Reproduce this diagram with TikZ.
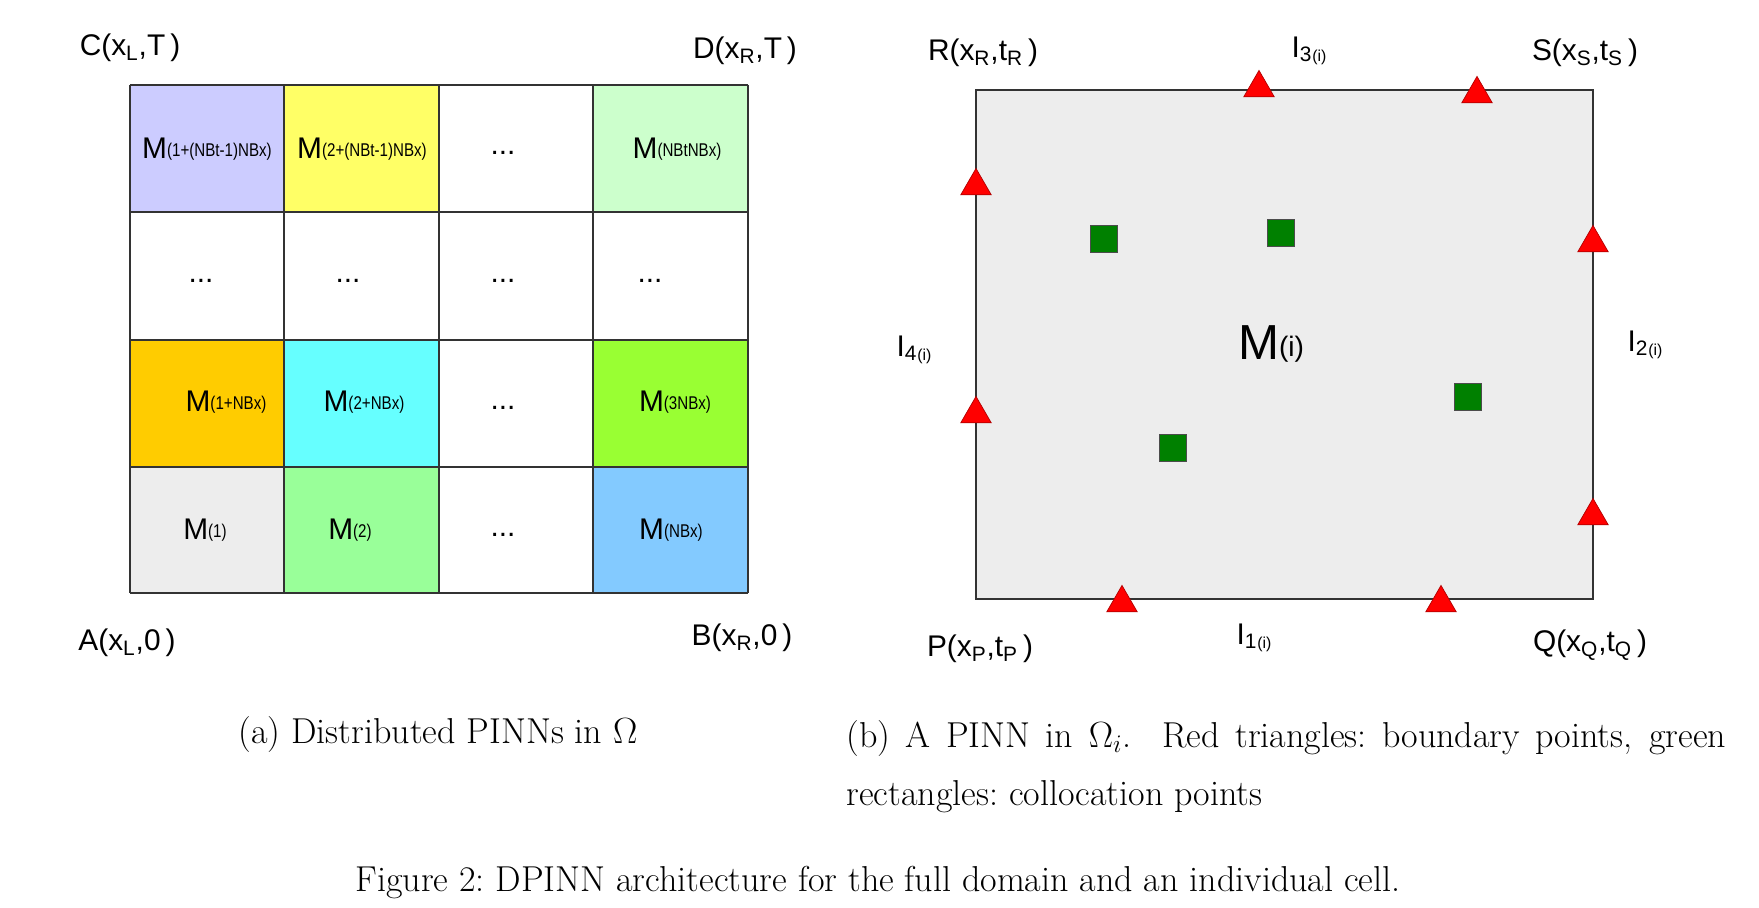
\documentclass[tikz,border=0pt]{standalone}
\usepackage{fontspec}
\newfontfamily\arial{Liberation Sans}
\newfontfamily\arialn[FakeStretch=0.82]{Liberation Sans}
\usetikzlibrary{shapes.geometric}
\newcommand{\Msub}[1]{M\raisebox{0.05em}{\arialn\fontsize{10.5}{12}\selectfont(#1)}}
\definecolor{cgold}{HTML}{FFCC00}
\definecolor{ccyan}{HTML}{66FFFF}
\definecolor{cblue}{HTML}{83CAFF}
\definecolor{clime}{HTML}{99FF33}
\definecolor{clav}{HTML}{CCCCFF}
\definecolor{cyel}{HTML}{FFFF66}
\definecolor{cpale}{HTML}{CCFFCC}
\definecolor{cmid}{HTML}{99FF99}
\begin{document}
\begin{tikzpicture}[x=0.02cm,y=-0.02cm,
 lab/.style={font=\arial\fontsize{17}{20}\selectfont,inner sep=0pt},
 cell/.style={draw=black!80,line width=0.8pt},
 tri/.style={regular polygon,regular polygon sides=3,fill=red,draw=red!70!black,minimum size=20pt,inner sep=0pt},
 sq/.style={rectangle,fill=green!50!black,draw=black!70,minimum size=15pt,inner sep=0pt},
 captxt/.style={font=\fontsize{20.5}{33}\selectfont,inner sep=0pt}]
\useasboundingbox (0,0) rectangle (1759,908);
\fill[clav] (130,85) rectangle (284,212);
\fill[cyel] (284,85) rectangle (439,212);
\fill[cpale] (593,85) rectangle (748,212);
\fill[cgold] (130,340) rectangle (284,467);
\fill[ccyan] (284,340) rectangle (439,467);
\fill[clime] (593,340) rectangle (748,467);
\fill[black!7] (130,467) rectangle (284,593);
\fill[cmid] (284,467) rectangle (439,593);
\fill[cblue] (593,467) rectangle (748,593);
\foreach \x in {130,284,439,593,748} \draw[cell] (\x,85) -- (\x,593);
\foreach \y in {85,212,340,467,593} \draw[cell] (130,\y) -- (748,\y);
\node[lab] (m1) at (207,149) {\Msub{1+(NBt-1)NBx}};
\node[lab] (m2) at (362,149) {\Msub{2+(NBt-1)NBx}};
\node[lab] (m3) at (503,153) {...};
\node[lab] (m4) at (677,149) {\Msub{NBtNBx}};
\foreach \x/\n in {201/a,348/b,503/c,650/d} \node[lab] (d\n) at (\x,281) {...};
\node[lab] (m5) at (226,402) {\Msub{1+NBx}};
\node[lab] (m6) at (364,402) {\Msub{2+NBx}};
\node[lab] (m7) at (503,408) {...};
\node[lab] (m8) at (675,402) {\Msub{3NBx}};
\node[lab] (m9) at (205,530) {\Msub{1}};
\node[lab] (m10) at (350,530) {\Msub{2}};
\node[lab] (m11) at (503,535) {...};
\node[lab] (m12) at (671,530) {\Msub{NBx}};
\node[lab] (C) at (130,48) {C(x\textsubscript{L},T\,)};
\node[lab] (D) at (745,51) {D(x\textsubscript{R},T\,)};
\node[lab] (A) at (127,643) {A(x\textsubscript{L},0\,)};
\node[lab] (B) at (742,638) {B(x\textsubscript{R},0\,)};
\draw[fill=black!7,draw=black!80,line width=0.8pt] (976,90) rectangle (1593,599);
\node[lab] (R) at (983,53) {R(x\textsubscript{R},t\textsubscript{R}\,)};
\node[lab] (I3) at (1309,51) {I\textsubscript{3}\raisebox{-0.15em}{\fontsize{9}{11}\selectfont(i)}};
\node[lab] (S) at (1585,53) {S(x\textsubscript{S},t\textsubscript{S}\,)};
\node[lab] (I4) at (914,350) {I\textsubscript{4}\raisebox{-0.15em}{\fontsize{9}{11}\selectfont(i)}};
\node[lab,font=\arial\fontsize{28}{30}\selectfont] (Mi) at (1271,344) {M\raisebox{0.05em}{\fontsize{16}{18}\selectfont(i)}};
\node[lab] (I2) at (1645,345) {I\textsubscript{2}\raisebox{-0.15em}{\fontsize{9}{11}\selectfont(i)}};
\node[lab] (P) at (980,649) {P(x\textsubscript{P},t\textsubscript{P}\,)};
\node[lab] (I1) at (1254,638) {I\textsubscript{1}\raisebox{-0.15em}{\fontsize{9}{11}\selectfont(i)}};
\node[lab] (Q) at (1590,645) {Q(x\textsubscript{Q},t\textsubscript{Q}\,)};
\foreach \p [count=\i] in {(1259,88),(1477,94),(976,186),(1593,243),(976,414),(1593,516),(1122,603),(1441,603)}
  \node[tri] (t\i) at \p {};
\foreach \p [count=\i] in {(1104,239),(1281,233),(1468,397),(1173,448)}
  \node[sq] (s\i) at \p {};
\node[captxt] (ca) at (438,735) {(a)\ Distributed PINNs in $\Omega$};
\node[captxt,anchor=north west,text width=17.6cm,align=justify] (cb) at (846,720) {(b)\ A PINN in $\Omega_i$.\ \ Red triangles:\ boundary points, green rectangles:\ collocation points};
\node[captxt] (fig) at (878,883) {Figure 2:\ DPINN architecture for the full domain and an individual cell.};
\end{tikzpicture}
\end{document}
